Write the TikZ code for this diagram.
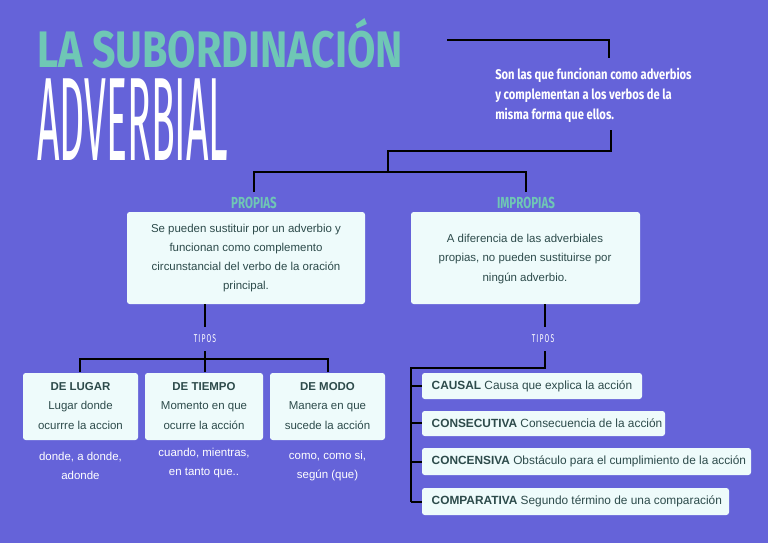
\documentclass[tikz,border=0pt]{standalone}
\usepackage{fontspec}
\usepackage{graphicx}
\setmainfont{Liberation Sans}
\newfontfamily\titlef{Fira Sans}
\definecolor{bg}{HTML}{6563D9}
\definecolor{teal}{HTML}{6FC7B5}
\definecolor{boxc}{HTML}{EEFBFB}
\definecolor{dark}{HTML}{2D4B4B}
\tikzset{
 x=0.75pt,y=-0.75pt,
 conn/.style={draw=black,line width=1.4pt},
 bigbox/.style={fill=boxc,rounded corners=2pt,draw=none},
 btxt/.style={text=dark,font=\fontsize{8.6}{14.3}\selectfont,align=center},
 wtxt/.style={text=white,font=\fontsize{8.6}{14.3}\selectfont,align=center},
 lab/.style={text=teal,font=\titlef\bfseries\fontsize{12}{12}\selectfont,inner sep=0},
 tip/.style={text=white,font=\titlef\fontsize{8.5}{9}\selectfont,inner sep=0},
 rtxt/.style={text=dark,font=\fontsize{8.9}{10}\selectfont,anchor=west}
}
\begin{document}
\begin{tikzpicture}
\fill[bg] (0,0) rectangle (768,543);
\useasboundingbox (0,0) rectangle (768,543);
% title
\node[anchor=south west,inner sep=0,text=teal] (t1) at (37,69) {\scalebox{0.8}[1]{\titlef\bfseries\fontsize{38.5}{40}\selectfont LA SUBORDINACIÓN}};
\node[anchor=south west,inner sep=0,text=white] (t2) at (37,161) {\scalebox{0.33}[1]{\titlef\fontsize{89}{90}\selectfont ADVERBIAL}};
\node[anchor=north west,inner sep=0,text=white,align=left] (desc) at (495,65) {\scalebox{0.8}[1]{\titlef\bfseries\fontsize{10.5}{15}\selectfont\begin{tabular}{@{}l@{}}Son las que funcionan como adverbios\\[0pt] y complementan a los verbos de la\\ misma forma que ellos.\end{tabular}}};
\coordinate (a0) at (447,40); \coordinate (a1) at (609,58);
\draw[conn] (a0) -| (a1);
\coordinate (b0) at (611,130); \coordinate (b1) at (388,172);
\draw[conn] (b0) |- (388,151) -- (b1);
\coordinate (pL) at (254,192); \coordinate (pR) at (526,192);
\draw[conn] (pL) |- (b1) -| (pR);
\node[lab] (prop) at (254,203) {\scalebox{0.72}[1]{PROPIAS}};
\node[lab] (improp) at (526,203) {\scalebox{0.72}[1]{IMPROPIAS}};
% big boxes
\fill[bigbox] (127,212) rectangle (365,304);
\fill[bigbox] (411,212) rectangle (640,304);
\node[btxt] (bl) at (246,258) {Se pueden sustituir por un adverbio y\\funcionan como complemento\\circunstancial del verbo de la oración\\principal.};
\node[btxt] (br) at (525,259) {A diferencia de las adverbiales\\propias, no pueden sustituirse por\\ningún adverbio.};
% tipos left
\node[tip] (tipL) at (205,339) {\scalebox{0.6}[1]{T\,I\,P\,O\,S}};
\draw[conn] (205,304) -- (205,327);
\draw[conn] (205,351) -- (205,372);
\draw[conn] (80,372) |- (328,359) -- (328,372);
% small boxes
\fill[bigbox] (23,373) rectangle (138,440);
\fill[bigbox] (145,373) rectangle (263,440);
\fill[bigbox] (270,373) rectangle (385,440);
\node[btxt] (s1) at (80.5,406) {\textbf{DE LUGAR}\\Lugar donde\\ocurrre la accion};
\node[btxt] (s2) at (204,406) {\textbf{DE TIEMPO}\\Momento en que\\ocurre la acción};
\node[btxt] (s3) at (327.5,406) {\textbf{DE MODO}\\Manera en que\\sucede la acción};
\node[wtxt] (e1) at (80.5,466) {donde, a donde,\\adonde};
\node[wtxt] (e2) at (204,463) {cuando, mientras,\\en tanto que..};
\node[wtxt] (e3) at (327.5,466) {como, como si,\\según (que)};
% tipos right
\node[tip] (tipR) at (543,339) {\scalebox{0.6}[1]{T\,I\,P\,O\,S}};
\draw[conn] (545,304) -- (545,327);
\draw[conn] (545,351) -- (545,368) -- (411,368) -- (411,502);
\foreach \y in {386,423,462,502} \draw[conn] (411,\y) -- (422,\y);
\fill[bigbox] (422,373) rectangle (642,399);
\fill[bigbox] (422,411) rectangle (665,436);
\fill[bigbox] (422,448) rectangle (751,475);
\fill[bigbox] (422,488) rectangle (729,515);
\node[rtxt] (r1) at (427,386) {\textbf{CAUSAL} Causa que explica la acción};
\node[rtxt] (r2) at (427,423) {\textbf{CONSECUTIVA} Consecuencia de la acción};
\node[rtxt] (r3) at (427,461.5) {\textbf{CONCENSIVA} Obstáculo para el cumplimiento de la acción};
\node[rtxt] (r4) at (427,501.5) {\textbf{COMPARATIVA} Segundo término de una comparación};
\end{tikzpicture}
\end{document}
